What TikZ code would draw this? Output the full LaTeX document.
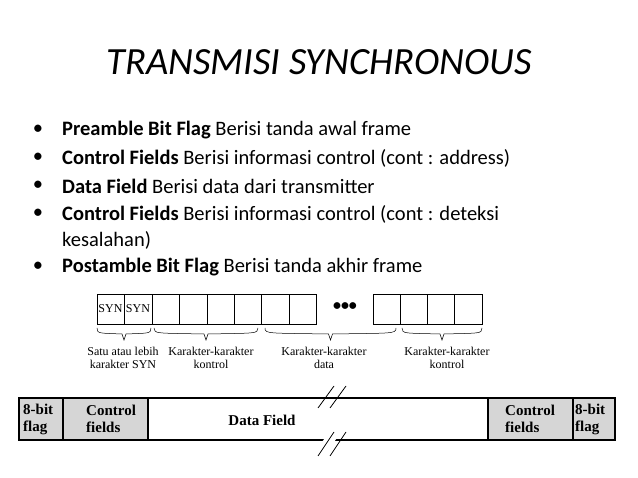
\documentclass[tikz,border=0pt]{standalone}
\usepackage{fontspec}
\setmainfont{Carlito}
\newfontfamily\tnr{Liberation Serif}
\begin{document}
\begin{tikzpicture}[x=1pt,y=-1pt,
  cell/.style={draw,line width=0.8pt},
  lbl/.style={font=\tnr\fontsize{12}{13}\selectfont,align=center,inner sep=0pt},
  bul/.style={anchor=west,font=\fontsize{20.5}{24}\selectfont,inner sep=0pt},
  fr/.style={font=\tnr\bfseries\fontsize{15}{17}\selectfont,align=left,inner sep=0pt},
  grayfill/.style={fill=black!16}]
\useasboundingbox (0,0) rectangle (638,478);
\node (title) at (319,62) {\fontsize{38.5}{42}\selectfont\itshape TRANSMISI SYNCHRONOUS};
\foreach \y/\t [count=\i] in {130/{\textbf{Preamble Bit Flag} Berisi tanda awal frame},
 158/{\textbf{Control Fields} Berisi informasi control (cont : address)},
 186/{\textbf{Data Field} Berisi data dari transmitter},
 214/{\textbf{Control Fields} Berisi informasi control (cont : deteksi},
 267/{\textbf{Postamble Bit Flag} Berisi tanda akhir frame}}
 {\node[bul] (b\i) at (62,\y) {\t};
  \node[anchor=center,font=\fontsize{20.5}{24}\selectfont,inner sep=0pt] (d\i) at (38,\y) {•};}
\node[bul] (b4b) at (62,240) {kesalahan)};
% top frame
\foreach \a/\b [count=\i] in {97/124,124/152,152/179,179/207,207/234,234/261,261/289,289/316,373/400,400/427,427/454,454/482}
  \draw[cell] (\a,294) rectangle (\b,324) coordinate (c\i);
\node[lbl] (s1) at (110.5,309) {SYN};
\node[lbl] (s2) at (138,309) {SYN};
\node (dots) at (345,307) {\fontsize{16}{16}\selectfont\textbf{•••}};
\foreach \a/\b in {97/151,154/258,265/396,402/482}
  \draw[line width=0.5pt] (\a,328) .. controls (\a,334) and ({\a+3},333) .. ({(\a+\b)/2-2},334) -- ({(\a+\b)/2},340) -- ({(\a+\b)/2+2},334) .. controls ({\b-3},333) and (\b,334) .. (\b,328);
\node[lbl] (l1) at (123,358) {Satu atau lebih\\karakter SYN};
\node[lbl] (l2) at (211,358) {Karakter-karakter\\kontrol};
\node[lbl] (l3) at (324,358) {Karakter-karakter\\data};
\node[lbl] (l4) at (447,358) {Karakter-karakter\\kontrol};
% bottom frame
\fill[grayfill] (19,398) rectangle (148,440);
\fill[grayfill] (488,398) rectangle (615,440);
\draw[line width=1.6pt] (19,398) rectangle (615,440);
\foreach \x in {63,148,488,573} \draw[line width=1.2pt] (\x,398) -- (\x,440);
\fill[white] (322,396) -- (330,385) -- (342,385) -- (334,396) -- cycle;
\fill[white] (322,442) -- (330,431) -- (342,431) -- (334,442) -- cycle;
\foreach \dx in {0,12} {
  \draw[line width=0.8pt] ({318+\dx},408) -- ({334+\dx},386);
  \draw[line width=0.8pt] ({318+\dx},456) -- ({334+\dx},432);}
\node[fr,anchor=west] (f1) at (23,419) {8-bit\\flag};
\node[fr,anchor=west] (f2) at (86,419) {Control\\fields};
\node[fr] (f3) at (262,420) {Data Field};
\node[fr,anchor=west] (f4) at (505,419) {Control\\fields};
\node[fr,anchor=west] (f5) at (575,419) {8-bit\\flag};
\end{tikzpicture}
\end{document}
